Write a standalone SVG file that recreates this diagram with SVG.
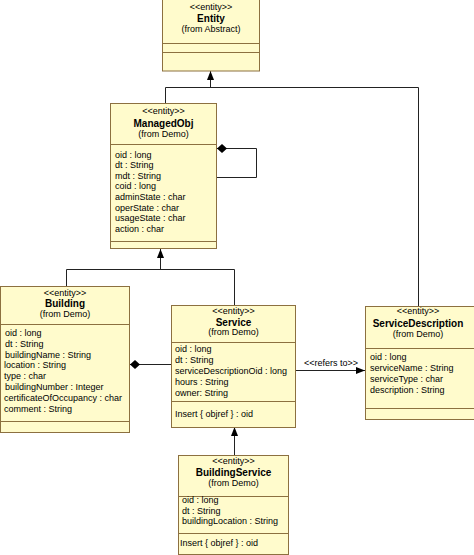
<svg xmlns="http://www.w3.org/2000/svg" width="474" height="555" viewBox="0 0 474 555">
<style>
.box{fill:#fffbcc;stroke:#8c7040;stroke-width:1}
.div{stroke:#8c7040;stroke-width:1}
text{font-family:"Liberation Sans",Arial,sans-serif;font-size:9px;fill:#000}
.c{text-anchor:middle}
.b{font-weight:bold;font-size:10px}
.ln{fill:none;stroke:#222;stroke-width:1}
</style>
<defs>
<marker id="tri" markerWidth="10" markerHeight="8" refX="9" refY="3.5" orient="auto" markerUnits="userSpaceOnUse"><path d="M0,0 L9,3.5 L0,7 z" fill="#000"/></marker>
<marker id="dia" markerWidth="11" markerHeight="10" refX="0" refY="4.5" orient="auto" markerUnits="userSpaceOnUse"><path d="M0,4.5 L5,0 L10,4.5 L5,9 z" fill="#000"/></marker>
</defs>

<g id="connectors">
<path class="ln" d="M165.5,103 V87.5 H418.5 V306"/>
<path class="ln" d="M210.5,87.5 V71" marker-end="url(#tri)"/>
<path class="ln" d="M66.5,286 V269.5 H234.5 V305"/>
<path class="ln" d="M160.5,269.5 V249" marker-end="url(#tri)"/>
<path class="ln" d="M217,148.5 H256.5 V177.5 H217" marker-start="url(#dia)"/>
<path class="ln" d="M130,364.5 H171" marker-start="url(#dia)"/>
<path class="ln" d="M296,370.5 H365" marker-end="url(#tri)"/>
<text x="304" y="366">&lt;&lt;refers to&gt;&gt;</text>
<path class="ln" d="M234.5,455 V427" marker-end="url(#tri)"/>
</g>

<g id="Entity">
<rect class="box" x="162.5" y="-1" width="97" height="72"/>
<line class="div" x1="162.5" y1="43.5" x2="259.5" y2="43.5"/>
<line class="div" x1="162.5" y1="52.5" x2="259.5" y2="52.5"/>
<text class="c" x="211" y="10">&lt;&lt;entity&gt;&gt;</text>
<text class="c b" x="211" y="21.5">Entity</text>
<text class="c" x="211" y="32">(from Abstract)</text>
</g>

<g id="ManagedObj">
<rect class="box" x="110.5" y="103.5" width="106" height="145"/>
<line class="div" x1="110.5" y1="144.5" x2="216.5" y2="144.5"/>
<line class="div" x1="110.5" y1="241.5" x2="216.5" y2="241.5"/>
<text class="c" x="163.5" y="114">&lt;&lt;entity&gt;&gt;</text>
<text class="c b" x="163.5" y="126.5">ManagedObj</text>
<text class="c" x="163.5" y="136.5">(from Demo)</text>
<text x="115" y="157.5">oid : long</text>
<text x="115" y="168.1">dt : String</text>
<text x="115" y="178.7">mdt : String</text>
<text x="115" y="189.3">coid : long</text>
<text x="115" y="199.9">adminState : char</text>
<text x="115" y="210.5">operState : char</text>
<text x="115" y="221.1">usageState : char</text>
<text x="115" y="231.7">action : char</text>
</g>

<g id="Building">
<rect class="box" x="0.5" y="286.5" width="129" height="146"/>
<line class="div" x1="0.5" y1="324.5" x2="129.5" y2="324.5"/>
<line class="div" x1="0.5" y1="421.5" x2="129.5" y2="421.5"/>
<text class="c" x="65" y="296">&lt;&lt;entity&gt;&gt;</text>
<text class="c b" x="65" y="307">Building</text>
<text class="c" x="65" y="317">(from Demo)</text>
<text x="5" y="336">oid : long</text>
<text x="5" y="346.8">dt : String</text>
<text x="5" y="357.6">buildingName : String</text>
<text x="4" y="368.4">location : String</text>
<text x="4" y="379.2">type : char</text>
<text x="5" y="390">buildingNumber : Integer</text>
<text x="4" y="400.8">certificateOfOccupancy : char</text>
<text x="4" y="411.6">comment : String</text>
</g>

<g id="Service">
<rect class="box" x="171.5" y="305.5" width="124" height="122"/>
<line class="div" x1="171.5" y1="342.5" x2="295.5" y2="342.5"/>
<line class="div" x1="171.5" y1="401.5" x2="295.5" y2="401.5"/>
<text class="c" x="233.5" y="314">&lt;&lt;entity&gt;&gt;</text>
<text class="c b" x="233.5" y="325.5">Service</text>
<text class="c" x="233.5" y="335">(from Demo)</text>
<text x="175" y="351.5">oid : long</text>
<text x="175" y="362.5">dt : String</text>
<text x="175" y="373.5">serviceDescriptionOid : long</text>
<text x="175" y="385">hours : String</text>
<text x="175" y="396">owner: String</text>
<text x="175" y="417">Insert { objref } : oid</text>
</g>

<g id="ServiceDescription">
<rect class="box" x="365.5" y="306.5" width="110" height="113"/>
<line class="div" x1="365.5" y1="348.5" x2="474" y2="348.5"/>
<line class="div" x1="365.5" y1="408.5" x2="474" y2="408.5"/>
<text class="c" x="418" y="314">&lt;&lt;entity&gt;&gt;</text>
<text class="c b" x="418" y="326.5">ServiceDescription</text>
<text class="c" x="418" y="337">(from Demo)</text>
<text x="370" y="360">oid : long</text>
<text x="370" y="371">serviceName : String</text>
<text x="370" y="382">serviceType : char</text>
<text x="370" y="393">description : String</text>
</g>

<g id="BuildingService">
<rect class="box" x="178.5" y="455.5" width="110" height="99"/>
<line class="div" x1="178.5" y1="496.5" x2="288.5" y2="496.5"/>
<line class="div" x1="178.5" y1="533.5" x2="288.5" y2="533.5"/>
<text class="c" x="233.5" y="464">&lt;&lt;entity&gt;&gt;</text>
<text class="c b" x="233.5" y="475.5">BuildingService</text>
<text class="c" x="233.5" y="486">(from Demo)</text>
<text x="182" y="503">oid : long</text>
<text x="182" y="513.5">dt : String</text>
<text x="182" y="524">buildingLocation : String</text>
<text x="180" y="546">Insert { objref } : oid</text>
</g>
</svg>
